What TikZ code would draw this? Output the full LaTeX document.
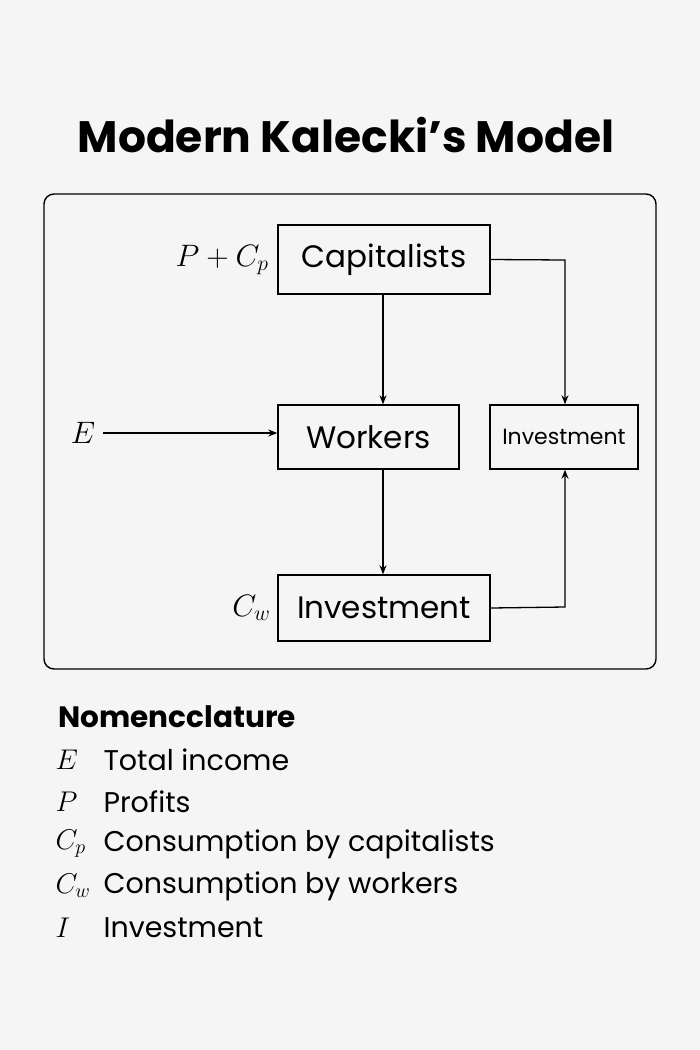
\RequirePackage{fix-cm}
\documentclass[tikz,border=0pt]{standalone}
\usepackage{fontspec}
\setmainfont{Poppins}
\usetikzlibrary{arrows.meta}
\begin{document}
\begin{tikzpicture}[x=1pt,y=-1pt,
  box/.style={draw,line width=1.4pt,inner sep=0pt},
  arr/.style={-{Stealth[length=9pt,width=7pt]},line width=1.3pt},
  lab/.style={font=\fontsize{31}{33}\selectfont},
  nom/.style={font=\fontsize{28.5}{30}\selectfont,anchor=west}]
\fill[white!96!black] (0,0) rectangle (700,1050);
\useasboundingbox (0,0) rectangle (700,1050);
\node[font=\fontsize{44}{48}\selectfont\bfseries] (title) at (346,135) {Modern Kalecki’s Model};
\draw[line width=1.4pt,rounded corners=10pt] (44,194) rectangle (656,669);
\node[box,minimum width=212pt,minimum height=69pt,font=\fontsize{31}{32}\selectfont] (cap) at (384,259.5) {Capitalists};
\node[box,minimum width=181pt,minimum height=64pt,font=\fontsize{31}{32}\selectfont] (wor) at (368.5,437) {Workers};
\node[box,minimum width=148pt,minimum height=64pt,font=\fontsize{22}{24}\selectfont] (invr) at (564,437) {Investment};
\node[box,minimum width=212pt,minimum height=66pt,font=\fontsize{31}{32}\selectfont] (invb) at (384,608) {Investment};
\node[lab,anchor=east] (pc) at (272,260) {$P+C_p$};
\node[lab] (e) at (83,433) {$E$};
\node[lab,anchor=east] (cw) at (274,608) {$C_w$};
\coordinate (es) at (103,433);
\draw[arr] (cap.south -| 383,0) -- (wor.north -| 383,0);
\draw[arr] (wor.south -| 383,0) -- (invb.north -| 383,0);
\draw[arr] (es) -- (wor.west |- es);
\draw[arr] (cap.east) -- (565,260) -- (invr.north -| 565,0);
\draw[arr] (invb.east) -- (565,607) -- (invr.south -| 565,0);
\node[nom,font=\fontsize{29.5}{30}\selectfont\bfseries] (nh) at (55,717) {Nomencclature};
\foreach \s/\t/\y [count=\i] in {E/Total income/760,P/Profits/802,C_p/Consumption by capitalists/844,C_w/Consumption by workers/886,I/Investment/928}{
  \node[nom] (s\i) at (52,\y) {$\s$};
  \node[nom] (t\i) at (100,\y) {\t};
}
\end{tikzpicture}
\end{document}
